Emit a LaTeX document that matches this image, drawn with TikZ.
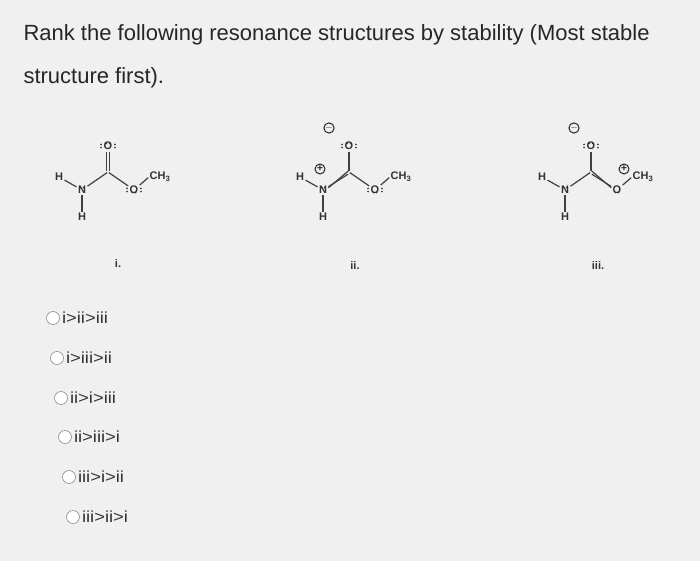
\documentclass[tikz,border=0pt]{standalone}
\usepackage{fontspec}
\setmainfont{Liberation Sans}
\begin{document}
\begin{tikzpicture}[x=1pt,y=-1pt,
  atom/.style={inner sep=0.5pt,font=\fontsize{11}{11}\selectfont\bfseries,text=black!80},
  bond/.style={line width=1.2pt,black!75,shorten >=1pt,shorten <=1pt},
  opt/.style={circle,draw=black!45,line width=0.6pt,minimum size=13pt,inner sep=0pt,fill=white},
  otext/.style={anchor=west,font=\fontsize{16}{16}\selectfont,text=black!80,xscale=1.15},
  lbl/.style={font=\fontsize{11}{11}\selectfont\bfseries,text=black!80},
  chg/.style={circle,draw=black!85,line width=1pt,text=black!85,inner sep=0pt,minimum size=10pt,font=\fontsize{10}{10}\selectfont\bfseries}]
\fill[gray!12] (0,0) rectangle (700,561);
\useasboundingbox (0,0) rectangle (700,561);
\node[anchor=west,font=\fontsize{22}{22}\selectfont,text=black!85] (t1) at (20,35) {Rank the following resonance structures by stability (Most stable};
\node[anchor=west,font=\fontsize{22}{22}\selectfont,text=black!85] (t2) at (20,78) {structure first).};
\foreach \dx/\k in {0/1,241/2,483/3}{
\begin{scope}[xshift=\dx]
\node[atom] (H1\k) at (59,177) {H};
\node[atom] (N\k) at (82,190) {N};
\node[atom] (H2\k) at (82,217) {H};
\coordinate (C\k) at (108,172);
\node[atom] (O\k) at (108,146) {O};
\node[atom] (E\k) at (134,190) {O};
\node[atom,anchor=west] (M\k) at (149,177) {CH\textsubscript{3}};
\draw[bond] (H1\k) -- (N\k);
\draw[bond] (N\k) -- (H2\k);
\draw[bond] (E\k) -- (M\k.west);
\end{scope}}
\draw[bond] (N1) -- (C1);
\draw[bond] (C1) -- (E1);
\draw[bond] ([xshift=-1.7]C1) -- ([xshift=-1.7]O1.south);
\draw[bond] ([xshift=1.7]C1) -- ([xshift=1.7]O1.south);
\draw[bond] (C2) -- (E2);
\draw[bond] (C2) -- (O2);
\draw[bond] ([yshift=-1.6]N2.north east) -- ([yshift=-1.6]C2);
\draw[bond] ([yshift=1.6]N2.east) -- ([yshift=1.6]C2);
\node[chg] (p2) at (320,169) {+};
\node[chg] (m2) at (329,128) {$-$};
\draw[bond] (N3) -- (C3);
\draw[bond] (C3) -- (O3);
\draw[bond] ([yshift=-1.6]C3) -- ([yshift=-1.6]E3.north west);
\draw[bond] ([yshift=1.6]C3) -- ([yshift=1.6]E3.west);
\node[chg] (p3) at (624,169) {+};
\node[chg] (m3) at (574,128) {$-$};
\foreach \p in {N1.north,N2.north,N3.north,O1.north,O2.north,O3.north}{
  \fill[black!80] ([xshift=-1.6,yshift=-2]\p) circle (0.9) ([xshift=1.6,yshift=-2]\p) circle (0.9);}
\foreach \p in {O1,O2,O3,E1,E2}{
  \fill[black!80] ([xshift=-2,yshift=-1.6]\p.west) circle (0.9) ([xshift=-2,yshift=1.6]\p.west) circle (0.9);
  \fill[black!80] ([xshift=2,yshift=-1.6]\p.east) circle (0.9) ([xshift=2,yshift=1.6]\p.east) circle (0.9);}
\foreach \p in {E1,E2,E3}{\fill[black!80] ([xshift=-1.6,yshift=2]\p.south) circle (0.9) ([xshift=1.6,yshift=2]\p.south) circle (0.9);}
\node[lbl] (l1) at (118,264) {i.};
\node[lbl] (l2) at (355,266) {ii.};
\node[lbl] (l3) at (598,266) {iii.};
\foreach \y/\xx/\t/\n in {318/53/i>ii>iii/a,358/57/i>iii>ii/b,398/61/ii>i>iii/c,437/65/ii>iii>i/d,477/69/iii>i>ii/e,517/73/iii>ii>i/f}{
  \node[opt] (c\n) at (\xx,\y) {};
  \node[otext] (o\n) at (\xx+5,\y) {\t};}
\end{tikzpicture}
\end{document}
